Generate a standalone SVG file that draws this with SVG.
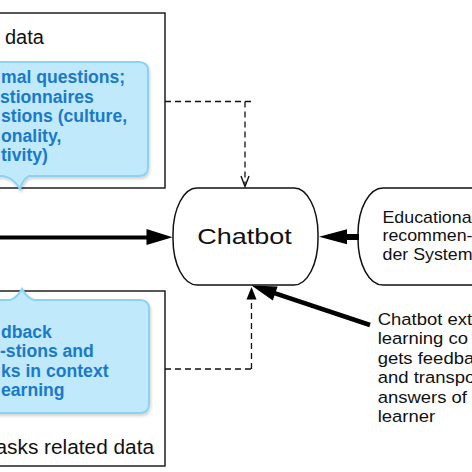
<svg xmlns="http://www.w3.org/2000/svg" width="472" height="472" viewBox="0 0 472 472">
  <style>
    .box { fill: #ffffff; stroke: #111111; stroke-width: 1.4; }
    .node { fill: #ffffff; stroke: #111111; stroke-width: 1.5; }
    .callout { fill: #c0eafb; stroke: #8ad3f4; stroke-width: 2; }
    .lbl { font-family: "Liberation Sans", Arial, Helvetica, sans-serif; fill: #111111; }
    .ctxt { font-family: "Liberation Sans", Arial, Helvetica, sans-serif; font-weight: bold; font-size: 17.6px; fill: #1a79c9; }
    .thick { stroke: #000000; fill: none; }
    .dash { stroke: #111111; stroke-width: 1.3; fill: none; stroke-dasharray: 6 4; }
  </style>
  <defs>
    <filter id="soft" x="-10%" y="-10%" width="130%" height="130%">
      <feDropShadow dx="1" dy="2" stdDeviation="1.5" flood-color="#000000" flood-opacity="0.18"/>
    </filter>
  </defs>

  <rect width="472" height="472" fill="#ffffff"/>

  <!-- upper data box with its callout -->
  <g id="profile-data">
    <rect class="box" x="-5" y="13" width="170" height="175"/>
    <text class="lbl" x="5" y="44" font-size="20">data</text>
    <path class="callout" filter="url(#soft)" d="M-10,62 H139 Q148,62 148,71 V167 Q148,176 139,176 H29 Q23,179 20,189 Q14,178 3,176 H-10 Z"/>
    <text class="ctxt" x="1" y="83.3">mal questions;</text>
    <text class="ctxt" x="0" y="102.7">stionnaires</text>
    <text class="ctxt" x="1" y="122.3">stions (culture,</text>
    <text class="ctxt" x="1" y="141.7">onality,</text>
    <text class="ctxt" x="1" y="161">tivity)</text>
  </g>

  <!-- lower tasks box with its callout -->
  <g id="tasks-data">
    <rect class="box" x="-5" y="291" width="170" height="175"/>
    <path class="callout" filter="url(#soft)" d="M-10,300 H10 Q17,298 22,289 Q27,298 34,300 H140 Q149,300 149,309 V404 Q149,413 140,413 H-10 Z"/>
    <text class="ctxt" x="1" y="337.5">dback</text>
    <text class="ctxt" x="0" y="357">-stions and</text>
    <text class="ctxt" x="1" y="376.5">ks in context</text>
    <text class="ctxt" x="1" y="395.5">earning</text>
    <text class="lbl" x="-4.5" y="454" font-size="20.5" textLength="158.5" lengthAdjust="spacingAndGlyphs">asks related data</text>
  </g>

  <!-- central chatbot node -->
  <g id="chatbot">
    <rect class="node" x="173" y="188" width="145" height="97" rx="24" ry="46"/>
    <text class="lbl" x="197.3" y="244.3" font-size="21.5" textLength="94.4" lengthAdjust="spacingAndGlyphs">Chatbot</text>
  </g>

  <!-- recommender system node -->
  <g id="recommender">
    <rect class="node" x="358" y="188" width="200" height="97" rx="25" ry="46"/>
    <g class="lbl" font-size="16.8" transform="translate(382.5,0) scale(1.06,1)">
      <text x="0" y="222.7">Educationa</text>
      <text x="0" y="241.5">recommen-</text>
      <text x="0" y="260.3">der System</text>
    </g>
  </g>

  <!-- annotation text -->
  <g id="note">
    <g class="lbl" font-size="16.8" transform="translate(377.7,0) scale(1.1,1)">
      <text x="0" y="325.3">Chatbot ext</text>
      <text x="0" y="344.5">learning co</text>
      <text x="0" y="364">gets feedba</text>
      <text x="0" y="383.5">and transpo</text>
      <text x="0" y="403">answers of</text>
      <text x="0" y="422.5">learner</text>
    </g>
  </g>

  <!-- connectors -->
  <g id="connectors">
    <!-- incoming from the left -->
    <line class="thick" x1="-5" y1="237.5" x2="150" y2="237.5" stroke-width="4"/>
    <polygon points="146.5,229 172.5,237.3 146.5,245" fill="#000000"/>

    <!-- from recommender -->
    <line class="thick" x1="344" y1="237" x2="359" y2="237" stroke-width="6"/>
    <polygon points="347,229.3 319,236.8 347,244.2" fill="#000000"/>

    <!-- from annotation -->
    <line class="thick" x1="370" y1="325" x2="270" y2="291.7" stroke-width="4.5"/>
    <polygon points="251.5,285.5 277.6,286.4 272.8,300.6" fill="#000000"/>

    <!-- dashed link from upper box -->
    <path class="dash" d="M165,101.5 H254"/>
    <path class="dash" d="M245,101.5 V186"/>
    <path d="M241,176 L245,186.5 L249,176" fill="none" stroke="#111111" stroke-width="1.4"/>

    <!-- dashed link from lower box -->
    <path class="dash" d="M165,369 H253"/>
    <path class="dash" d="M251.5,369 V297"/>
    <polygon points="251.5,287 246.5,299.5 256.5,299.5" fill="#000000"/>
  </g>
</svg>
